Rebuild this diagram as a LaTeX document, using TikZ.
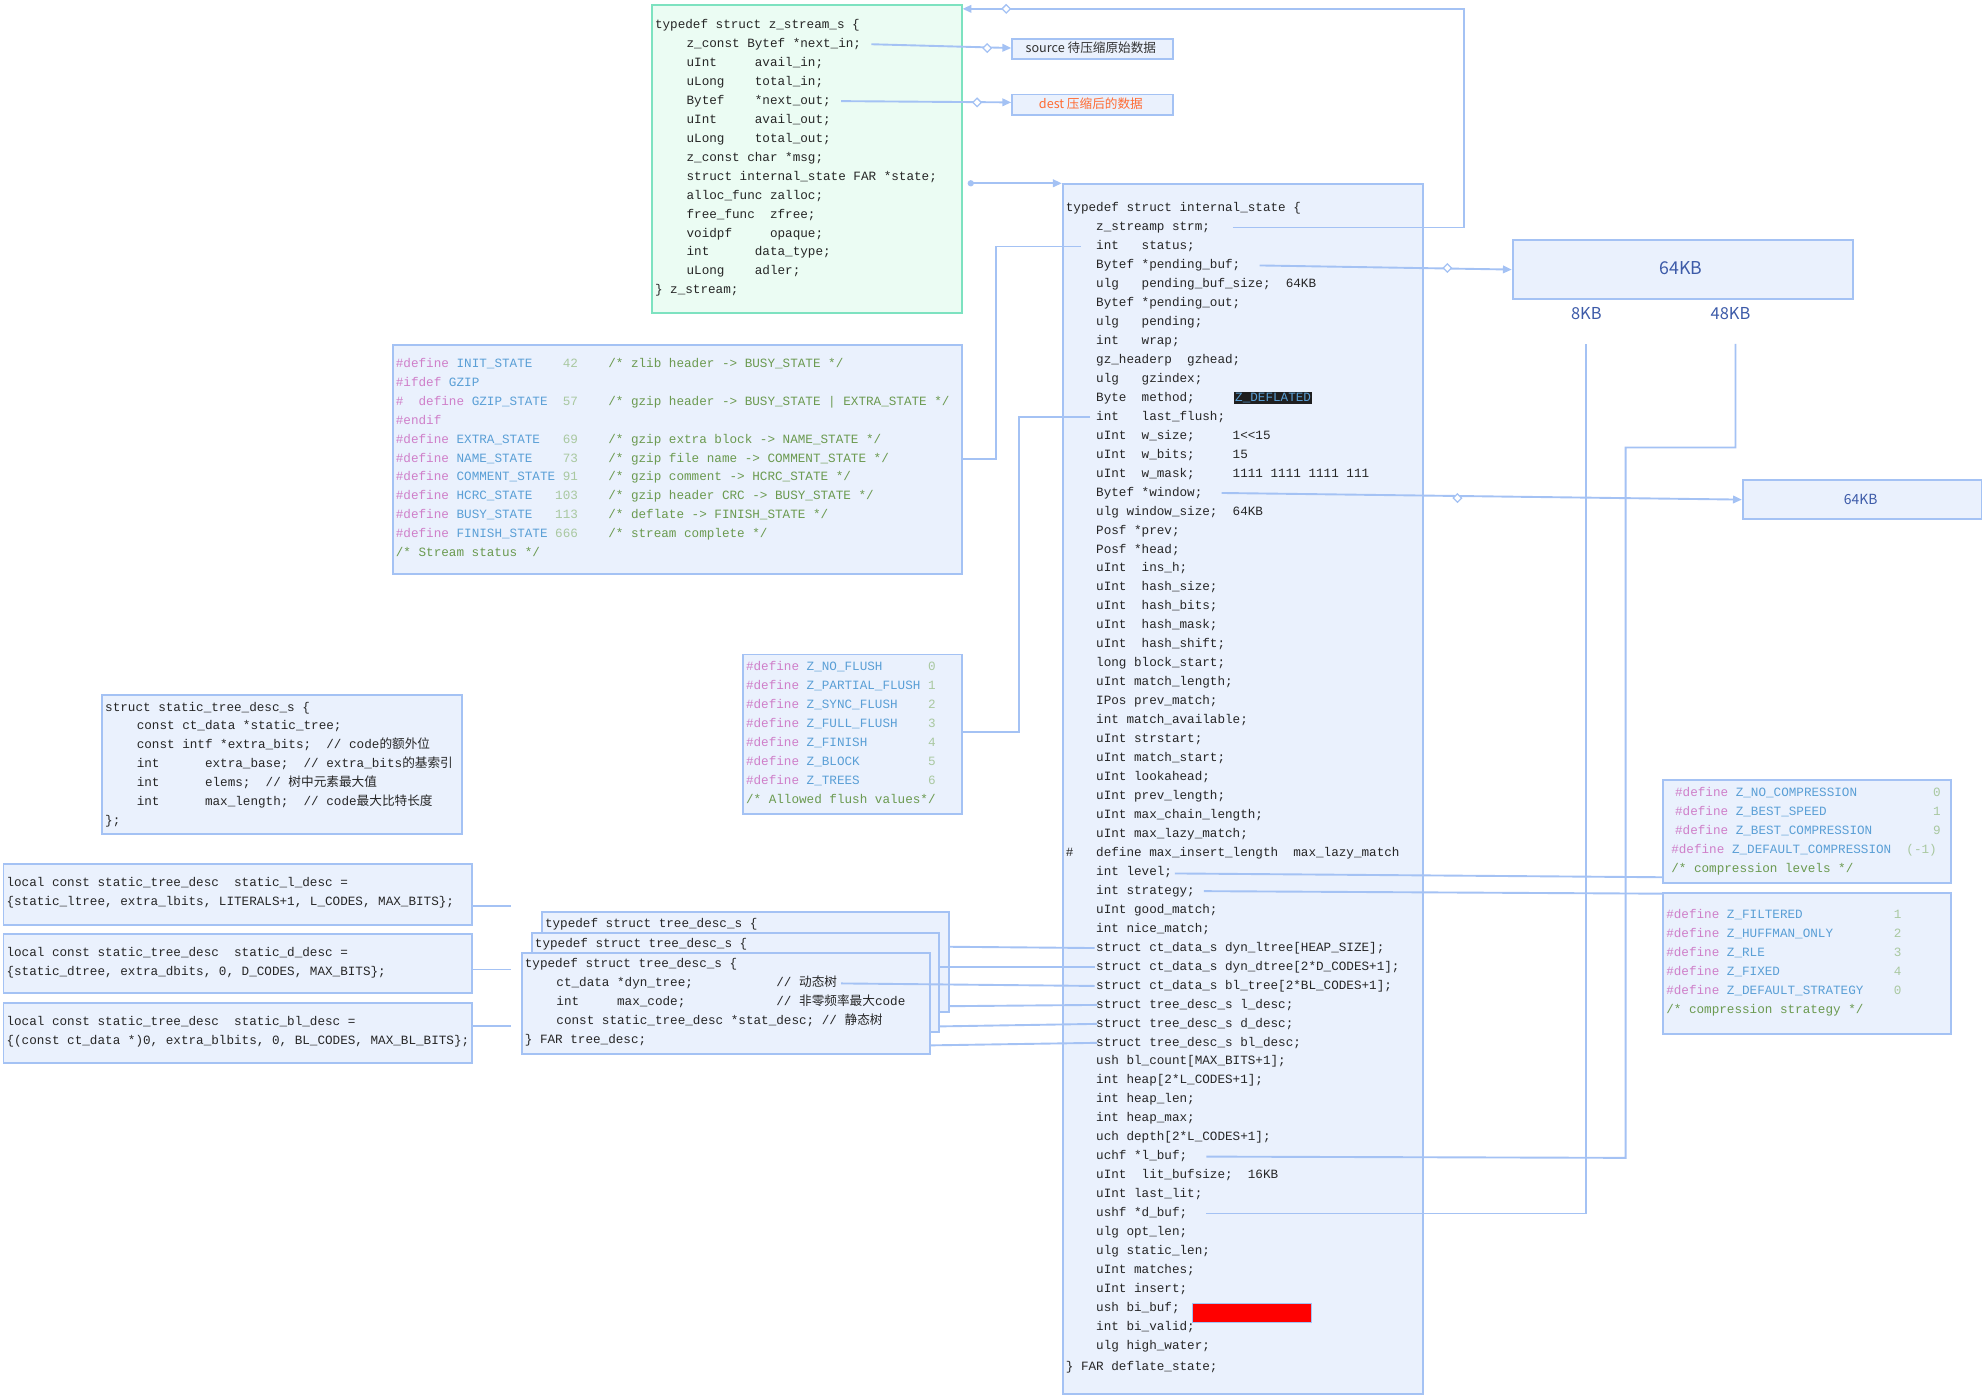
\documentclass[tikz,border=0pt]{standalone}
\usepackage{fontspec}
\setmonofont{Liberation Mono}
\newfontfamily\cjk{Noto Sans CJK SC}
\usetikzlibrary{arrows.meta,shapes.geometric}
\definecolor{ln}{HTML}{A4C2F4}
\definecolor{bfill}{HTML}{EAF1FD}
\definecolor{gfill}{HTML}{EBFCF3}
\definecolor{gline}{HTML}{7DE2C0}
\definecolor{kwc}{HTML}{CF7FC9}
\definecolor{nmc}{HTML}{5A9FD6}
\definecolor{nuc}{HTML}{A9C8A0}
\definecolor{cmc}{HTML}{6B9A50}
\definecolor{kbc}{HTML}{3C5AA8}
\newcommand\kw[1]{\textcolor{kwc}{#1}}
\newcommand\nm[1]{\textcolor{nmc}{#1}}
\newcommand\nb[1]{\textcolor{nuc}{#1}}
\newcommand\cm[1]{\textcolor{cmc}{#1}}
\newcommand\zh[1]{{\cjk #1}}
\tikzset{
 txt/.style={font=\ttfamily\fontsize{10}{12}\selectfont, inner sep=0pt, anchor=west, text height=7pt, text depth=2pt, text=black!85},
 box/.style={draw=ln, fill=bfill, line width=1.5pt, anchor=north west, inner sep=0pt},
 con/.style={draw=ln, line width=1.5pt},
 arr/.style={con, -{Triangle[length=7pt,width=6pt]}},
 dia/.style={diamond, draw=ln, fill=white, line width=1pt, minimum size=7pt, inner sep=0pt},
 sans/.style={font=\cjk\fontsize{10}{12}\selectfont, inner sep=0pt}
}
\newcommand\iline[2]{\node[txt] (i#1) at (867,{150+15*#1}) {#2};}
\begin{document}
\begin{tikzpicture}[x=1pt,y=-1pt]
\useasboundingbox (0,0) rectangle (1568,1103);
% ---------- boxes
\node[box, draw=gline, fill=gfill, minimum width=245pt, minimum height=244pt] (zs) at (515,3) {};
\node[box, minimum width=127pt, minimum height=16pt] (src) at (800,30) {};
\node[box, minimum width=127pt, minimum height=16pt] (dst) at (800,74) {};
\node[box, minimum width=285pt, minimum height=957pt] (is) at (840,145) {};
\node[box, minimum width=450pt, minimum height=181pt] (st) at (310,272) {};
\node[box, minimum width=173pt, minimum height=126pt] (fl) at (587,517) {};
\node[box, minimum width=285pt, minimum height=110pt] (sd) at (80,549) {};
\node[box, minimum width=371pt, minimum height=48pt] (l1) at (2,683) {};
\node[box, minimum width=371pt, minimum height=47pt] (l2) at (2,738) {};
\node[box, minimum width=371pt, minimum height=47pt] (l3) at (2,793) {};
\node[box, minimum width=322pt, minimum height=79pt] (t1) at (428,721) {};
\node[box, minimum width=322pt, minimum height=79pt] (t2) at (420,737) {};
\node[box, minimum width=323pt, minimum height=80pt] (t3) at (412,753) {};
\node[box, minimum width=269pt, minimum height=47pt] (pb) at (1196,189) {};
\node[box, minimum width=189pt, minimum height=31pt] (wb) at (1378,379) {};
\node[box, minimum width=228pt, minimum height=82pt] (cl) at (1315,616) {};
\node[box, minimum width=228pt, minimum height=111pt] (cs) at (1315,706) {};
\node[box, draw=ln, fill=red, line width=1pt, minimum width=94pt, minimum height=15pt] (red) at (943,1031) {};
% ---------- box labels
\node[sans, text=black!80] (srct) at (863,38) {source 待压缩原始数据};
\node[sans, text=red!45!orange!80!white] (dstt) at (863,82) {dest 压缩后的数据};
\node[sans, font=\cjk\fontsize{14}{14}\selectfont, text=kbc] (pbt) at (1330,212) {64KB};
\node[sans, font=\cjk\fontsize{13}{13}\selectfont, text=kbc] (k8) at (1255,248) {8KB};
\node[sans, font=\cjk\fontsize{13}{13}\selectfont, text=kbc] (k48) at (1369,248) {48KB};
\node[sans, font=\cjk\fontsize{11}{11}\selectfont, text=kbc] (wbt) at (1472,395) {64KB};
% ---------- z_stream text
\node[txt] (z1) at (518,20) {typedef struct z\_stream\_s \{};
\node[txt] (z2) at (543,35) {z\_const Bytef *next\_in;};
\node[txt] (z3) at (543,50) {uInt~~~~~avail\_in;};
\node[txt] (z4) at (543,65) {uLong~~~~total\_in;};
\node[txt] (z5) at (543,80) {Bytef~~~~*next\_out;};
\node[txt] (z6) at (543,95) {uInt~~~~~avail\_out;};
\node[txt] (z7) at (543,110) {uLong~~~~total\_out;};
\node[txt] (z8) at (543,125) {z\_const char *msg;};
\node[txt] (z9) at (543,140) {struct internal\_state FAR *state;};
\node[txt] (z10) at (543,155) {alloc\_func zalloc;};
\node[txt] (z11) at (543,170) {free\_func~~zfree;};
\node[txt] (z12) at (543,185) {voidpf~~~~~opaque;};
\node[txt] (z13) at (543,200) {int~~~~~~data\_type;};
\node[txt] (z14) at (543,215) {uLong~~~~adler;};
\node[txt] (z15) at (518,230) {\} z\_stream;};
% ---------- internal_state text
\node[txt] (i1) at (843,165) {typedef struct internal\_state \{};
\iline{2}{z\_streamp strm;}
\iline{3}{int~~~status;}
\iline{4}{Bytef *pending\_buf;}
\iline{5}{ulg~~~pending\_buf\_size;~~64KB}
\iline{6}{Bytef *pending\_out;}
\iline{7}{ulg~~~pending;}
\iline{8}{int~~~wrap;}
\iline{9}{gz\_headerp~~gzhead;}
\iline{10}{ulg~~~gzindex;}
\iline{11}{Byte~~method;}
\node[txt, fill=black!88, text=nmc, inner xsep=1pt] (zdef) at (976,315) {Z\_DEFLATED};
\iline{12}{int~~~last\_flush;}
\iline{13}{uInt~~w\_size;~~~~~1<<15}
\iline{14}{uInt~~w\_bits;~~~~~15}
\iline{15}{uInt~~w\_mask;~~~~~1111 1111 1111 111}
\iline{16}{Bytef *window;}
\iline{17}{ulg window\_size;~~64KB}
\iline{18}{Posf *prev;}
\iline{19}{Posf *head;}
\iline{20}{uInt~~ins\_h;}
\iline{21}{uInt~~hash\_size;}
\iline{22}{uInt~~hash\_bits;}
\iline{23}{uInt~~hash\_mask;}
\iline{24}{uInt~~hash\_shift;}
\iline{25}{long block\_start;}
\iline{26}{uInt match\_length;}
\iline{27}{IPos prev\_match;}
\iline{28}{int match\_available;}
\iline{29}{uInt strstart;}
\iline{30}{uInt match\_start;}
\iline{31}{uInt lookahead;}
\iline{32}{uInt prev\_length;}
\iline{33}{uInt max\_chain\_length;}
\iline{34}{uInt max\_lazy\_match;}
\node[txt] (ih) at (843,675) {\#};
\iline{35}{define max\_insert\_length~~max\_lazy\_match}
\iline{36}{int level;}
\iline{37}{int strategy;}
\iline{38}{uInt good\_match;}
\iline{39}{int nice\_match;}
\iline{40}{struct ct\_data\_s dyn\_ltree[HEAP\_SIZE];}
\iline{41}{struct ct\_data\_s dyn\_dtree[2*D\_CODES+1];}
\iline{42}{struct ct\_data\_s bl\_tree[2*BL\_CODES+1];}
\iline{43}{struct tree\_desc\_s l\_desc;}
\iline{44}{struct tree\_desc\_s d\_desc;}
\iline{45}{struct tree\_desc\_s bl\_desc;}
\iline{46}{ush bl\_count[MAX\_BITS+1];}
\iline{47}{int heap[2*L\_CODES+1];}
\iline{48}{int heap\_len;}
\iline{49}{int heap\_max;}
\iline{50}{uch depth[2*L\_CODES+1];}
\iline{51}{uchf *l\_buf;}
\iline{52}{uInt~~lit\_bufsize;~~16KB}
\iline{53}{uInt last\_lit;}
\iline{54}{ushf *d\_buf;}
\iline{55}{ulg opt\_len;}
\iline{56}{ulg static\_len;}
\iline{57}{uInt matches;}
\iline{58}{uInt insert;}
\iline{59}{ush bi\_buf;}
\iline{60}{int bi\_valid;}
\iline{61}{ulg high\_water;}
\node[txt] (i62) at (843,1082) {\} FAR deflate\_state;};
% ---------- states defines
\node[txt] (s1) at (313,288) {\kw{\#define} \nm{INIT\_STATE}~~~~\nb{42}~~~~\cm{/* zlib header -> BUSY\_STATE */}};
\node[txt] (s2) at (313,303) {\kw{\#ifdef} \nm{GZIP}};
\node[txt] (s3) at (313,318) {\kw{\#~~define} \nm{GZIP\_STATE}~~\nb{57}~~~~\cm{/* gzip header -> BUSY\_STATE | EXTRA\_STATE */}};
\node[txt] (s4) at (313,333) {\kw{\#endif}};
\node[txt] (s5) at (313,348) {\kw{\#define} \nm{EXTRA\_STATE}~~~\nb{69}~~~~\cm{/* gzip extra block -> NAME\_STATE */}};
\node[txt] (s6) at (313,363) {\kw{\#define} \nm{NAME\_STATE}~~~~\nb{73}~~~~\cm{/* gzip file name -> COMMENT\_STATE */}};
\node[txt] (s7) at (313,378) {\kw{\#define} \nm{COMMENT\_STATE}~\nb{91}~~~~\cm{/* gzip comment -> HCRC\_STATE */}};
\node[txt] (s8) at (313,393) {\kw{\#define} \nm{HCRC\_STATE}~~~\nb{103}~~~~\cm{/* gzip header CRC -> BUSY\_STATE */}};
\node[txt] (s9) at (313,408) {\kw{\#define} \nm{BUSY\_STATE}~~~\nb{113}~~~~\cm{/* deflate -> FINISH\_STATE */}};
\node[txt] (s10) at (313,423) {\kw{\#define} \nm{FINISH\_STATE}~\nb{666}~~~~\cm{/* stream complete */}};
\node[txt] (s11) at (313,438) {\cm{/* Stream status */}};
% ---------- flush defines
\node[txt] (f1) at (590,528) {\kw{\#define} \nm{Z\_NO\_FLUSH}~~~~~~\nb{0}};
\node[txt] (f2) at (590,543) {\kw{\#define} \nm{Z\_PARTIAL\_FLUSH}~\nb{1}};
\node[txt] (f3) at (590,558) {\kw{\#define} \nm{Z\_SYNC\_FLUSH}~~~~\nb{2}};
\node[txt] (f4) at (590,573) {\kw{\#define} \nm{Z\_FULL\_FLUSH}~~~~\nb{3}};
\node[txt] (f5) at (590,588) {\kw{\#define} \nm{Z\_FINISH}~~~~~~~~\nb{4}};
\node[txt] (f6) at (590,603) {\kw{\#define} \nm{Z\_BLOCK}~~~~~~~~~\nb{5}};
\node[txt] (f7) at (590,618) {\kw{\#define} \nm{Z\_TREES}~~~~~~~~~\nb{6}};
\node[txt] (f8) at (590,633) {\cm{/* Allowed flush values*/}};
% ---------- compression levels
\node[txt] (c1) at (1325,628) {\kw{\#define} \nm{Z\_NO\_COMPRESSION}~~~~~~~~~~\nb{0}};
\node[txt] (c2) at (1325,643) {\kw{\#define} \nm{Z\_BEST\_SPEED}~~~~~~~~~~~~~~\nb{1}};
\node[txt] (c3) at (1325,658) {\kw{\#define} \nm{Z\_BEST\_COMPRESSION}~~~~~~~~\nb{9}};
\node[txt] (c4) at (1322,673) {\kw{\#define} \nm{Z\_DEFAULT\_COMPRESSION}~~\nb{(-1)}};
\node[txt] (c5) at (1322,688) {\cm{/* compression levels */}};
% ---------- strategy
\node[txt] (g1) at (1318,724) {\kw{\#define} \nm{Z\_FILTERED}~~~~~~~~~~~~\nb{1}};
\node[txt] (g2) at (1318,739) {\kw{\#define} \nm{Z\_HUFFMAN\_ONLY}~~~~~~~~\nb{2}};
\node[txt] (g3) at (1318,754) {\kw{\#define} \nm{Z\_RLE}~~~~~~~~~~~~~~~~~\nb{3}};
\node[txt] (g4) at (1318,769) {\kw{\#define} \nm{Z\_FIXED}~~~~~~~~~~~~~~~\nb{4}};
\node[txt] (g5) at (1318,784) {\kw{\#define} \nm{Z\_DEFAULT\_STRATEGY}~~~~\nb{0}};
\node[txt] (g6) at (1318,799) {\cm{/* compression strategy */}};
% ---------- static_tree_desc_s
\node[txt] (d1) at (83,560) {struct static\_tree\_desc\_s \{};
\node[txt] (d2) at (108,575) {const ct\_data *static\_tree;};
\node[txt] (d3) at (108,590) {const intf *extra\_bits;~~// code\zh{的额外位}};
\node[txt] (d4) at (108,605) {int~~~~~~extra\_base;~~// extra\_bits\zh{的基索引}};
\node[txt] (d5) at (108,620) {int~~~~~~elems;~~// \zh{树中元素最大值}};
\node[txt] (d6) at (108,635) {int~~~~~~max\_length;~~// code\zh{最大比特长度}};
\node[txt] (d7) at (83,650) {\};};
% ---------- local descs
\node[txt] (la) at (5,699) {local const static\_tree\_desc~~static\_l\_desc =};
\node[txt] (lb) at (5,714) {\{static\_ltree, extra\_lbits, LITERALS+1, L\_CODES, MAX\_BITS\};};
\node[txt] (lc) at (5,754) {local const static\_tree\_desc~~static\_d\_desc =};
\node[txt] (ld) at (5,769) {\{static\_dtree, extra\_dbits, 0, D\_CODES, MAX\_BITS\};};
\node[txt] (le) at (5,809) {local const static\_tree\_desc~~static\_bl\_desc =};
\node[txt] (lf) at (5,824) {\{(const ct\_data *)0, extra\_blbits, 0, BL\_CODES, MAX\_BL\_BITS\};};
% ---------- tree_desc stack text
\node[txt] (ta) at (431,731) {typedef struct tree\_desc\_s \{};
\node[txt] (tb) at (423,747) {typedef struct tree\_desc\_s \{};
\node[txt] (tc) at (415,763) {typedef struct tree\_desc\_s \{};
\node[txt] (td) at (440,778) {ct\_data *dyn\_tree;~~~~~~~~~~~// \zh{动态树}};
\node[txt] (te) at (440,793) {int~~~~~max\_code;~~~~~~~~~~~~// \zh{非零频率最大}code};
\node[txt] (tf) at (440,808) {const static\_tree\_desc *stat\_desc; // \zh{静态树}};
\node[txt] (tg) at (415,823) {\} FAR tree\_desc;};
% ---------- connectors
\coordinate (topR) at (1158,7);
\draw[arr] ([xshift=18pt]i2.east) -| (topR) -- (zs.north east |- topR);
\node[dia] (dm1) at (796,7) {};
\fill[ln] (768,145) circle (2.5pt);
\coordinate (stS) at (768,145);
\draw[arr] (stS) -- (is.north west);
\draw[arr] ([xshift=8pt]z2.east) -- (src.west |- 0,38);
\node[dia] (dm2) at (781,38) {};
\draw[arr] ([xshift=8pt]z5.east) -- (dst.west |- 0,81);
\node[dia] (dm3) at (773,81) {};
\draw[con] ([xshift=-12pt]i3.west) -- (788,195) -- (788,363) -- (st.east |- 0,363);
\draw[con] ([xshift=-5pt]i12.west) -- (806,330) -- (806,579) -- (fl.east |- 0,579);
\draw[arr] ([xshift=15pt]i4.east) -- (pb.west);
\node[dia] (dm4) at (1145,212) {};
\draw[arr] ([xshift=15pt]i16.east) -- (wb.west);
\node[dia] (dm5) at (1153,394) {};
\draw[con] ([xshift=2pt,yshift=-1pt]i36.east) -- (cl.west |- 0,694);
\draw[con] ([xshift=7pt]i37.east) -- (cs.west |- 0,707);
\coordinate (k8b) at (1255,272);
\coordinate (k48b) at (1373,272);
\draw[con] ([xshift=15pt]i51.east) -- (1286,916) -- (1286,354) -- (1373,354) -- (k48b);
\draw[con] ([xshift=15pt]i54.east) -| (k8b);
\draw[con] (l1.east |- 0,717) -- (404,717);
\draw[con] (l2.east |- 0,767) -- (404,767);
\draw[con] (l3.east |- 0,812) -- (404,812);
\draw[con] (t1.east |- 0,749) -- ([xshift=-1pt]i40.west);
\draw[con] (t2.east |- 0,765) -- ([xshift=-1pt]i41.west);
\draw[con] ([xshift=3pt]td.east) -- ([xshift=-1pt]i42.west);
\draw[con] (t1.east |- 0,796) -- ([xshift=1pt]i43.west);
\draw[con] (t2.east |- 0,812) -- ([xshift=1pt]i44.west);
\draw[con] (t3.east |- 0,827) -- ([xshift=1pt]i45.west);
\end{tikzpicture}
\end{document}
